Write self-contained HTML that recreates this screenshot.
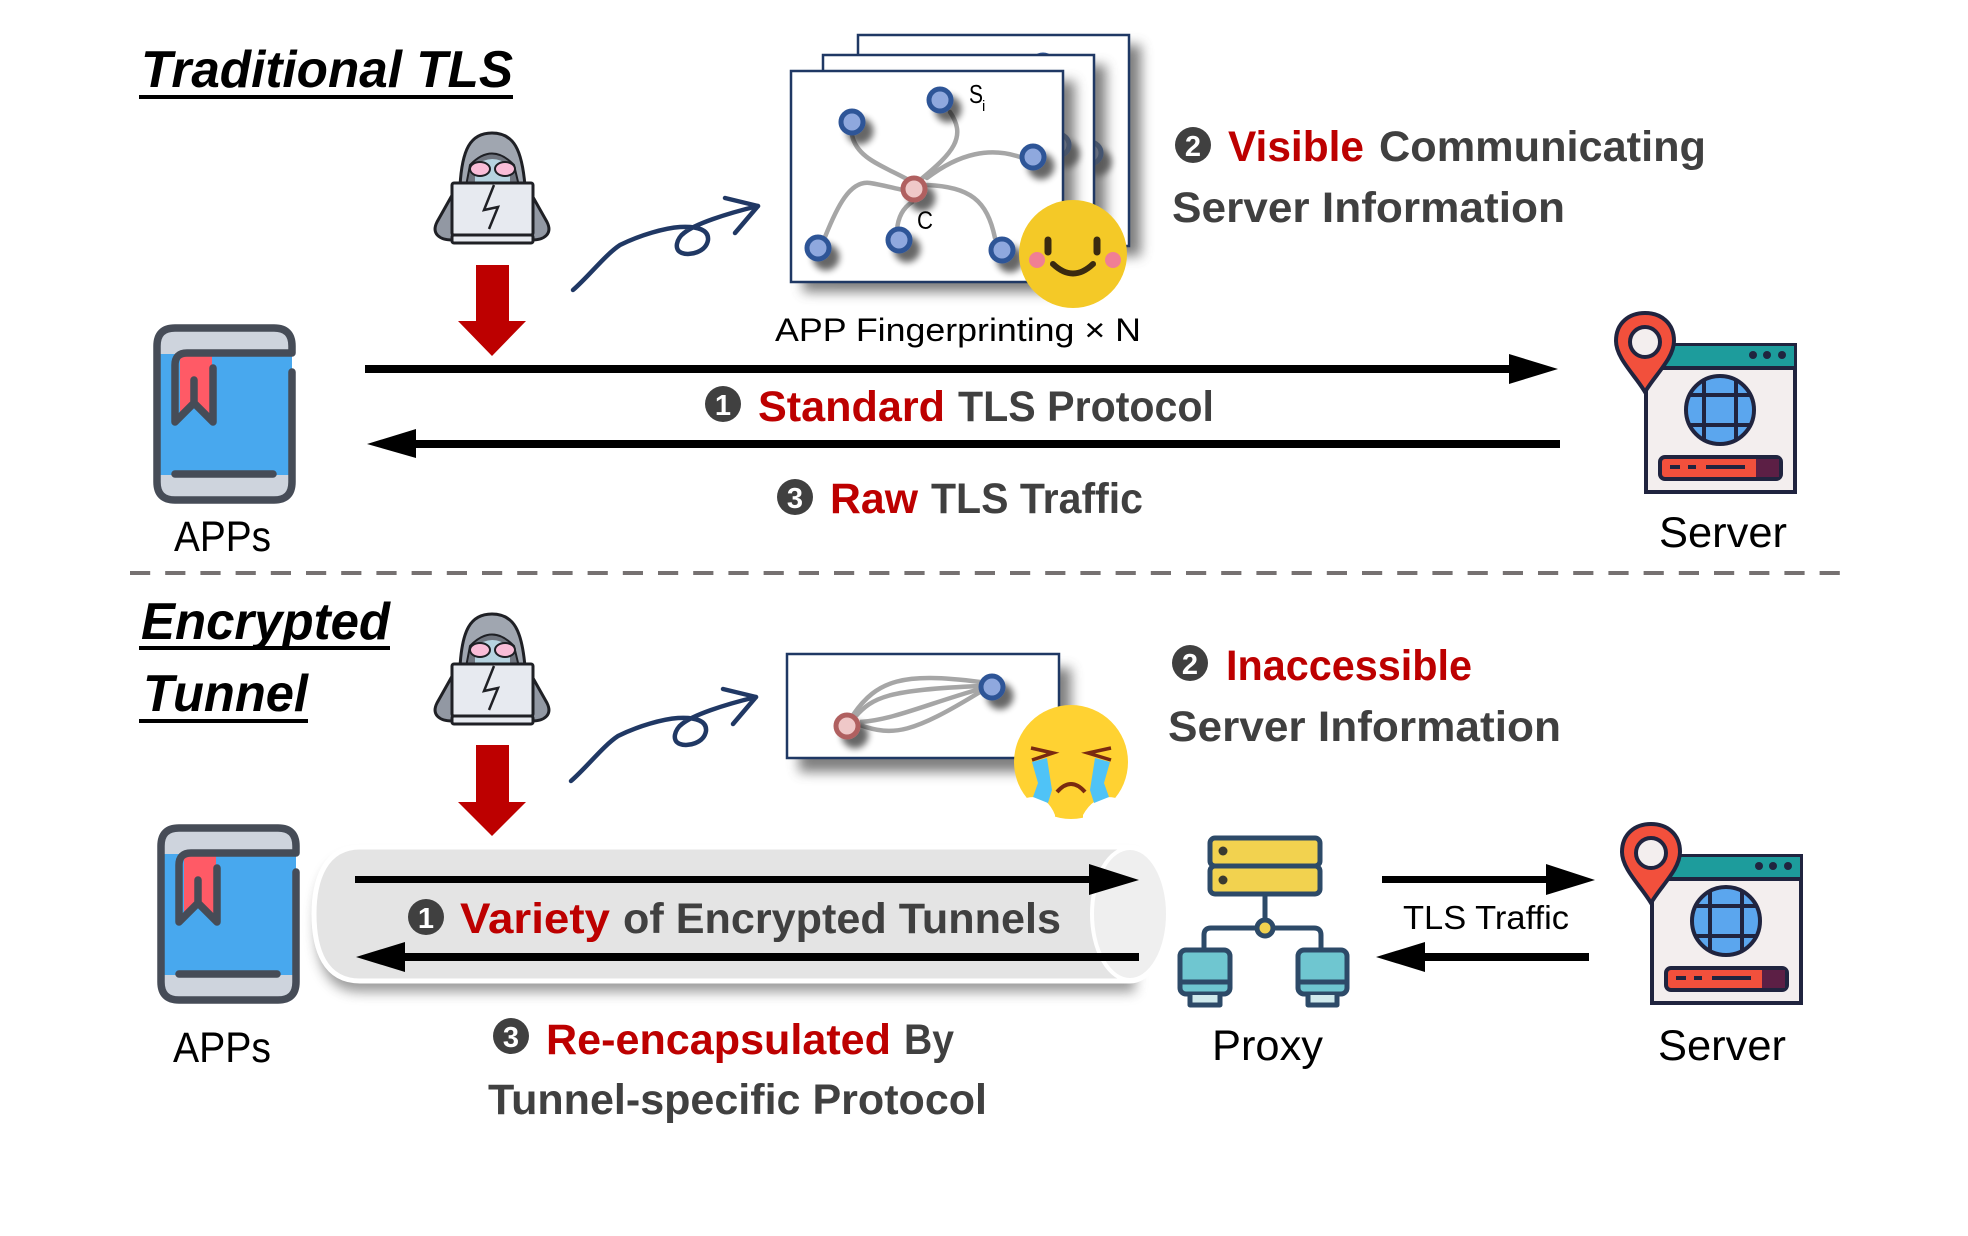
<!DOCTYPE html>
<html lang="en">
<head>
<meta charset="utf-8">
<title>Traditional TLS vs Encrypted Tunnel</title>
<style>
html,body{margin:0;padding:0;background:#fff;width:1968px;height:1236px;overflow:hidden}
svg{display:block}
text{font-family:"Liberation Sans",Arial,sans-serif}
.b{font-weight:bold}
.g{fill:#404040}
.r{fill:#bd0000}
.k{fill:#000}
.h{font-weight:bold;font-style:italic;fill:#000}
.d{font-weight:bold;fill:#fff;text-anchor:middle;font-size:29px}
</style>
</head>
<body>
<svg width="1968" height="1236" viewBox="0 0 1968 1236" xmlns="http://www.w3.org/2000/svg">
<defs>
<filter id="sf" x="-30%" y="-30%" width="170%" height="170%"><feGaussianBlur stdDeviation="6"/></filter>
<filter id="sn" x="-100%" y="-100%" width="300%" height="300%"><feGaussianBlur in="SourceAlpha" stdDeviation="3.5"/><feOffset dx="8" dy="9"/><feComponentTransfer><feFuncA type="linear" slope="0.6"/></feComponentTransfer><feMerge><feMergeNode/><feMergeNode in="SourceGraphic"/></feMerge></filter>
<filter id="st" x="-5%" y="-15%" width="110%" height="135%"><feGaussianBlur stdDeviation="6"/></filter>
<clipPath id="gc"><circle cx="1720" cy="410" r="34"/></clipPath>
<g id="book">
  <rect x="157" y="328" width="135" height="172" rx="18" fill="#ced4dd"/>
  <rect x="160" y="354" width="132" height="121" fill="#48a8ee"/>
  <path d="M180,356H212V418L196,402L180,418Z" fill="#ff5a66"/>
  <path d="M292,372V482Q292,500 274,500H175Q157,500 157,482V346Q157,328 175,328H274Q292,328 292,346V353H187Q175,353 175,365V422L194,403L213,422V368M194,403V380M175,474H273" fill="none" stroke="#464c57" stroke-width="7.5" stroke-linecap="round" stroke-linejoin="round"/>
</g>
<g id="hacker">
  <path d="M460,186C462,150 470,133 492,133C514,133 522,150 525,186Z" fill="#a0a6b0" stroke="#1f2025" stroke-width="3"/>
  <path d="M455,190L437,222C431,234 440,240 452,240H532C544,240 553,234 547,222L529,190Z" fill="#9298a3" stroke="#1f2025" stroke-width="3"/>
  <path d="M466,186L470,165Q492,142 514,165L519,186Z" fill="#6f747e" stroke="#1f2025" stroke-width="2"/>
  <path d="M475,186V166Q492,152 510,166V186Z" fill="#b6d3e0"/>
  <ellipse cx="480" cy="169" rx="10" ry="7" fill="#f9bdd8" stroke="#1f2025" stroke-width="2"/>
  <ellipse cx="505" cy="169" rx="10" ry="7" fill="#f9bdd8" stroke="#1f2025" stroke-width="2"/>
  <rect x="452" y="183" width="81" height="52" rx="2" fill="#e7eaf0" stroke="#1f2025" stroke-width="3"/>
  <rect x="452" y="235" width="81" height="8" rx="2" fill="#e7eaf0" stroke="#1f2025" stroke-width="3"/>
  <path d="M494,185L484,210L498,207L489,229" fill="none" stroke="#1f2025" stroke-width="2.5"/>
</g>
<g id="curve" fill="none" stroke="#203864" stroke-width="4.5" stroke-linecap="round" stroke-linejoin="round">
  <path d="M573,290C590,275 605,255 620,245C640,235 665,228 680,227C698,226 709,230 708,240C706,252 690,256 682,253C673,250 677,238 684,233C695,224 725,214 758,206"/>
  <path d="M725,198L758,206L735,233"/>
</g>
<g id="server">
  <rect x="1646" y="345" width="149" height="147" fill="#f3eeee" stroke="#20243f" stroke-width="4"/>
  <rect x="1648" y="346" width="146" height="21" fill="#1d9c9c"/>
  <path d="M1646,368H1795" stroke="#20243f" stroke-width="4"/>
  <circle cx="1753" cy="355" r="4" fill="#20243f"/><circle cx="1767" cy="355" r="4" fill="#20243f"/><circle cx="1782" cy="355" r="4" fill="#20243f"/>
  <circle cx="1720" cy="410" r="34" fill="#5ba6ee" stroke="#20243f" stroke-width="4"/>
  <path d="M1704,374V446M1736,374V446M1684,395H1756M1684,425H1756" stroke="#20243f" stroke-width="4" clip-path="url(#gc)"/>
  <rect x="1660" y="457" width="121" height="22" rx="5" fill="#f2503c" stroke="#20243f" stroke-width="4"/>
  <rect x="1756" y="459" width="23" height="18" fill="#5c1f45"/>
  <path d="M1670,467H1680M1688,467H1696M1706,467H1745" stroke="#20243f" stroke-width="4"/>
  <path d="M1645,392C1635,375 1616,358 1616,341C1616,323 1629,313 1645,313C1661,313 1674,323 1674,341C1674,358 1655,375 1645,392Z" fill="#f2503c" stroke="#20243f" stroke-width="4"/>
  <circle cx="1645" cy="342" r="15" fill="#f3eeee" stroke="#20243f" stroke-width="4"/>
</g>
</defs>

<!-- Traditional TLS -->
<text x="141" y="87" font-size="52" class="h" textLength="372" lengthAdjust="spacingAndGlyphs">Traditional TLS</text>
<rect x="139" y="95" width="374" height="4" fill="#000"/>

<use href="#hacker"/>
<polygon points="476,265 509,265 509,321 526,321 492,356 458,321 476,321" fill="#bd0000"/>
<use href="#curve"/>

<!-- stacked frames -->
<rect x="870" y="45" width="271" height="211" fill="#555" opacity=".75" filter="url(#sf)"/>
<rect x="858" y="35" width="271" height="211" fill="#fff" stroke="#1f3864" stroke-width="2.5"/>
<g filter="url(#sn)" fill="#8fa8de" stroke="#2f5597" stroke-width="5">
  <circle cx="1043" cy="66" r="11"/>
  <circle cx="1090" cy="153" r="11"/>
</g>
<rect x="835" y="65" width="271" height="211" fill="#555" opacity=".75" filter="url(#sf)"/>
<rect x="823" y="55" width="271" height="211" fill="#fff" stroke="#1f3864" stroke-width="2.5"/>
<g filter="url(#sn)" fill="#8fa8de" stroke="#2f5597" stroke-width="5">
  <circle cx="1058" cy="145" r="11"/>
</g>
<rect x="803" y="81" width="272" height="211" fill="#555" opacity=".75" filter="url(#sf)"/>
<rect x="791" y="71" width="272" height="211" fill="#fff" stroke="#1f3864" stroke-width="2.5"/>
<g fill="none" stroke="#a6a6a6" stroke-width="4.5" stroke-linecap="round">
  <path d="M852,135C857,160 887,167 914,183"/>
  <path d="M950,112C967,137 953,153 920,180"/>
  <path d="M1020,157C990,147 960,153 927,178"/>
  <path d="M825,237C837,207 850,180 870,183C883,185 893,188 903,190"/>
  <path d="M897,230C898,217 903,208 912,202"/>
  <path d="M995,238C987,200 970,187 927,185"/>
</g>
<g filter="url(#sn)" fill="#8fa8de" stroke="#2f5597" stroke-width="5">
  <circle cx="852" cy="122" r="11"/>
  <circle cx="940" cy="100" r="11"/>
  <circle cx="1033" cy="157" r="11"/>
  <circle cx="818" cy="248" r="11"/>
  <circle cx="899" cy="240" r="11"/>
  <circle cx="1002" cy="250" r="11"/>
  <circle cx="914" cy="189" r="11" fill="#efc8c8" stroke="#b06060"/>
</g>
<text x="969" y="103" font-size="26" class="k" textLength="14" lengthAdjust="spacingAndGlyphs">S</text>
<text x="982" y="111" font-size="15" class="k">i</text>
<text x="917" y="229" font-size="25" class="k" textLength="16" lengthAdjust="spacingAndGlyphs">C</text>

<!-- smile -->
<circle cx="1073" cy="254" r="54" fill="#f4c927"/>
<path d="M1048,240V252M1097,240V252" stroke="#3a2a10" stroke-width="7" stroke-linecap="round"/>
<circle cx="1037" cy="260" r="8" fill="#f07f94"/><circle cx="1113" cy="260" r="8" fill="#f07f94"/>
<path d="M1053,264Q1073,283 1093,264" fill="none" stroke="#3a2a10" stroke-width="6" stroke-linecap="round"/>

<text x="775" y="341" font-size="32" class="k" textLength="366" lengthAdjust="spacingAndGlyphs">APP Fingerprinting × N</text>

<circle cx="1193" cy="145" r="18" fill="#404040"/><text x="1193" y="156" class="d">2</text>
<text x="1228" y="161" font-size="43" class="b r" textLength="136" lengthAdjust="spacingAndGlyphs">Visible</text>
<text x="1379" y="161" font-size="43" class="b g" textLength="327" lengthAdjust="spacingAndGlyphs">Communicating</text>
<text x="1172" y="222" font-size="43" class="b g" textLength="393" lengthAdjust="spacingAndGlyphs">Server Information</text>

<use href="#book"/>
<text x="174" y="551" font-size="43" class="k" textLength="97" lengthAdjust="spacingAndGlyphs">APPs</text>

<rect x="365" y="365" width="1150" height="8" fill="#000"/>
<polygon points="1509,354 1558,369 1509,384" fill="#000"/>
<rect x="410" y="440" width="1150" height="8" fill="#000"/>
<polygon points="416,429 367,444 416,458" fill="#000"/>

<circle cx="723" cy="404" r="18" fill="#404040"/><text x="723" y="415" class="d">1</text>
<text x="758" y="421" font-size="43" class="b r" textLength="187" lengthAdjust="spacingAndGlyphs">Standard</text>
<text x="958" y="421" font-size="43" class="b g" textLength="256" lengthAdjust="spacingAndGlyphs">TLS Protocol</text>
<circle cx="795" cy="497" r="18" fill="#404040"/><text x="795" y="508" class="d">3</text>
<text x="830" y="513" font-size="43" class="b r" textLength="88" lengthAdjust="spacingAndGlyphs">Raw</text>
<text x="931" y="513" font-size="43" class="b g" textLength="212" lengthAdjust="spacingAndGlyphs">TLS Traffic</text>

<use href="#server"/>
<text x="1659" y="547" font-size="43" class="k" textLength="128" lengthAdjust="spacingAndGlyphs">Server</text>

<!-- divider -->
<line x1="130" y1="573" x2="1842" y2="573" stroke="#767171" stroke-width="4" stroke-dasharray="20.2 15"/>

<!-- Encrypted tunnel -->
<text x="141" y="639" font-size="52" class="h" textLength="249" lengthAdjust="spacingAndGlyphs">Encrypted</text>
<rect x="139" y="646" width="251" height="4" fill="#000"/>
<text x="143" y="711" font-size="52" class="h" textLength="165" lengthAdjust="spacingAndGlyphs">Tunnel</text>
<rect x="139" y="719" width="169" height="4" fill="#000"/>

<use href="#hacker" transform="translate(0,481)"/>
<polygon points="476,745 509,745 509,802 526,802 492,836 458,802 476,802" fill="#bd0000"/>
<use href="#curve" transform="translate(-2,491)"/>

<rect x="799" y="668" width="272" height="104" fill="#555" opacity=".75" filter="url(#sf)"/>
<rect x="787" y="654" width="272" height="104" fill="#fff" stroke="#1f3864" stroke-width="2.5"/>
<g fill="none" stroke="#a6a6a6" stroke-width="4.5">
  <path d="M853,715C877,680 903,672 980,682"/>
  <path d="M855,717C873,697 887,690 980,686"/>
  <path d="M860,722C893,720 930,703 980,689"/>
  <path d="M860,725C893,737 913,733 980,692"/>
</g>
<g filter="url(#sn)" stroke-width="5">
  <circle cx="992" cy="687" r="11" fill="#8fa8de" stroke="#2f5597"/>
  <circle cx="847" cy="726" r="11" fill="#efc8c8" stroke="#b06060"/>
</g>

<!-- cry -->
<circle cx="1071" cy="762" r="57" fill="#ffd232"/>
<path d="M1020,800Q1045,790 1055,815V830H1015ZM1122,800Q1097,790 1083,815V830H1125Z" fill="#fff"/>
<rect x="1060" y="800" width="22" height="18" rx="4" fill="#ffd232"/>
<path d="M1032,762L1047,758L1052,790L1048,803L1033,797L1038,783Z" fill="#4fc3f7"/>
<path d="M1110,762L1095,758L1090,790L1094,803L1109,797L1104,783Z" fill="#4fc3f7"/>
<path d="M1031,748L1053,753L1032,760M1111,748L1088,753L1111,760" fill="none" stroke="#7a2a10" stroke-width="3.5"/>
<path d="M1057,792Q1071,776 1085,792" fill="none" stroke="#7a2a10" stroke-width="4"/>

<circle cx="1190" cy="663" r="18" fill="#404040"/><text x="1190" y="674" class="d">2</text>
<text x="1226" y="680" font-size="43" class="b r" textLength="246" lengthAdjust="spacingAndGlyphs">Inaccessible</text>
<text x="1168" y="741" font-size="43" class="b g" textLength="393" lengthAdjust="spacingAndGlyphs">Server Information</text>

<use href="#book" transform="translate(4,500)"/>
<text x="173" y="1062" font-size="43" class="k" textLength="98" lengthAdjust="spacingAndGlyphs">APPs</text>

<!-- tunnel -->
<path d="M360,857H1135V992H360C325,992 316,960 316,924C316,890 325,857 360,857Z" fill="#666" opacity=".65" filter="url(#st)"/>
<path d="M360,847H1130A38,67 0 0 1 1130,981H360C325,981 314,950 314,914C314,880 325,847 360,847Z" fill="#e4e4e4" stroke="#fff" stroke-width="5"/>
<ellipse cx="1130" cy="914" rx="38" ry="66" fill="#efefef" stroke="#fff" stroke-width="4"/>
<rect x="355" y="876" width="740" height="7" fill="#000"/>
<polygon points="1089,864 1139,880 1089,895" fill="#000"/>
<rect x="400" y="953" width="739" height="8" fill="#000"/>
<polygon points="405,942 356,957 405,972" fill="#000"/>

<circle cx="426" cy="917" r="18" fill="#404040"/><text x="426" y="928" class="d">1</text>
<text x="460" y="933" font-size="43" class="b r" textLength="150" lengthAdjust="spacingAndGlyphs">Variety</text>
<text x="623" y="933" font-size="43" class="b g" textLength="438" lengthAdjust="spacingAndGlyphs">of Encrypted Tunnels</text>

<circle cx="511" cy="1036" r="18" fill="#404040"/><text x="511" y="1047" class="d">3</text>
<text x="546" y="1054" font-size="43" class="b r" textLength="345" lengthAdjust="spacingAndGlyphs">Re-encapsulated</text>
<text x="904" y="1054" font-size="43" class="b g" textLength="50" lengthAdjust="spacingAndGlyphs">By</text>
<text x="488" y="1114" font-size="43" class="b g" textLength="499" lengthAdjust="spacingAndGlyphs">Tunnel-specific Protocol</text>

<!-- proxy -->
<g stroke="#2d4a68" stroke-width="5" stroke-linejoin="round">
  <rect x="1210" y="838" width="110" height="28" rx="5" fill="#f2d24f"/>
  <rect x="1210" y="866" width="110" height="28" rx="5" fill="#f2d24f"/>
  <path d="M1265,895V920M1204,948V935Q1204,928 1211,928H1314Q1321,928 1321,935V948" fill="none"/>
  <circle cx="1265" cy="928" r="8" fill="#f2d24f"/>
  <rect x="1180" y="950" width="50" height="44" rx="6" fill="#6fc6d0"/>
  <rect x="1298" y="950" width="49" height="44" rx="6" fill="#6fc6d0"/>
  <path d="M1180,982H1230M1298,982H1347" fill="none"/>
  <path d="M1190,995V1005H1220V995M1308,995V1005H1337V995" fill="#cfe9ec"/>
</g>
<circle cx="1223" cy="851" r="4.5" fill="#3a3a30"/><circle cx="1223" cy="880" r="4.5" fill="#3a3a30"/>
<text x="1212" y="1060" font-size="43" class="k" textLength="111" lengthAdjust="spacingAndGlyphs">Proxy</text>

<rect x="1382" y="876" width="170" height="7" fill="#000"/>
<polygon points="1546,864 1595,880 1546,895" fill="#000"/>
<rect x="1420" y="953" width="169" height="8" fill="#000"/>
<polygon points="1425,942 1376,957 1425,972" fill="#000"/>
<text x="1403" y="929" font-size="33" class="k" textLength="166" lengthAdjust="spacingAndGlyphs">TLS Traffic</text>

<use href="#server" transform="translate(6,511)"/>
<text x="1658" y="1060" font-size="43" class="k" textLength="128" lengthAdjust="spacingAndGlyphs">Server</text>
</svg>
</body>
</html>
